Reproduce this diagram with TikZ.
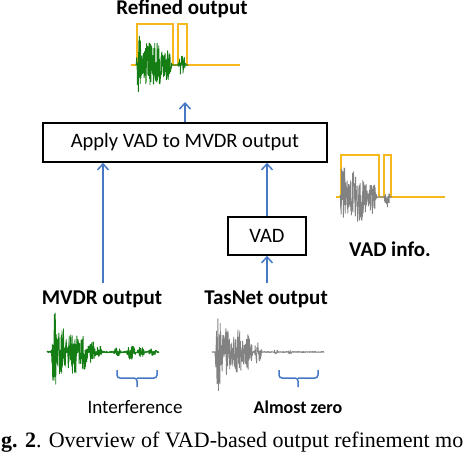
\documentclass[tikz,border=0pt]{standalone}
\usepackage{fontspec}
\setmainfont{Carlito}
\newfontfamily\capfont{Liberation Serif}
\usetikzlibrary{arrows.meta}
\definecolor{vadorange}{RGB}{245,185,30}
\definecolor{wgreen}{RGB}{20,125,20}
\definecolor{wgray}{RGB}{130,130,130}
\definecolor{ablue}{RGB}{70,120,195}
\tikzset{
  box/.style={draw, line width=1.6pt, inner sep=0pt, font=\fontsize{20.5}{24}\selectfont},
  lbl/.style={font=\bfseries\fontsize{21}{24}\selectfont, inner sep=0pt, anchor=base},
  sublbl/.style={font=\fontsize{19}{22}\selectfont, inner sep=0pt, anchor=base},
  sublblb/.style={font=\bfseries\fontsize{18}{22}\selectfont, inner sep=0pt, anchor=base},
  flow/.style={draw=ablue, line width=1.5pt, -{Straight Barb[length=6pt,width=11pt,line width=1.5pt]}},
  wave/.style={line width=0.85pt, line join=round},
  vadline/.style={draw=vadorange, line width=1.4pt},
  brc/.style={draw=ablue, line width=1.5pt, rounded corners=3pt},
}
\newcommand\wavedraw[7]{% color, seed, x0, x1, y0, samples, envelope in \x
  \pgfmathsetseed{#2}
  \draw[wave,#1] plot[samples=#6, domain=#3:#4] (\x,{#5+(#7)*rand});
}
\begin{document}
\begin{tikzpicture}[x=1pt,y=-1pt,
  declare function={B(\bx,\bc,\bw)=max(0,1-((\bx-\bc)/\bw)^2);}]
\useasboundingbox (0,0) rectangle (474,457);

% ---------- Refined output ----------
\node[lbl] (reflbl) at (182,15) {Refined output};
\draw[vadline] (131,65) -- (137,65) -- (137,24) -- (173,24) -- (173,65) -- (178,65)
  -- (178,24) -- (187,24) -- (187,65) -- (240,65);
\wavedraw{wgreen}{11}{136}{188}{65}{220}{34*B(\x,139,3)+24*B(\x,148,8)+22*B(\x,158,6)+16*B(\x,167,5)+11*B(\x,182,4)+0.3}
\coordinate (refbot) at (185,102);

% ---------- Apply box ----------
\node[box, minimum width=284pt, minimum height=39pt] (apply) at (185,142.5) {Apply VAD to MVDR output};

% ---------- VAD box ----------
\node[box, minimum width=78pt, minimum height=38pt] (vad) at (267,236) {VAD};

% ---------- VAD info ----------
\draw[vadline] (336,197) -- (341,197) -- (341,155) -- (379,155) -- (379,197) -- (384,197)
  -- (384,155) -- (391,155) -- (391,197) -- (445,197);
\wavedraw{wgray}{23}{340}{392}{197}{220}{36*B(\x,343,3)+26*B(\x,352,8)+24*B(\x,362,6)+17*B(\x,372,5)+12*B(\x,387,3)+0.3}
\node[lbl] (vadinfo) at (390,257) {VAD info.};

% ---------- MVDR output ----------
\node[lbl] (mvdr) at (102,305) {MVDR output};
\wavedraw{wgreen}{5}{47}{159}{352}{450}{38*B(\x,54,3)+24*B(\x,62,8)+22*B(\x,74,7)+17*B(\x,84,5)+12*B(\x,92,4)+7*B(\x,99,3)+4*B(\x,117,4)+7*B(\x,131,5)+5*B(\x,141,4)+3*B(\x,152,5)+0.8}
\draw[brc] (117,370) -- (117,378) -- (137,378) -- (137,387) (137,378) -- (157,378) -- (157,370);
\node[sublbl] (interf) at (135,413) {Interference};

% ---------- TasNet output ----------
\node[lbl] (tasnet) at (266,305) {TasNet output};
\wavedraw{wgray}{7}{212}{324}{352}{450}{38*B(\x,218,3)+24*B(\x,226,8)+22*B(\x,238,7)+17*B(\x,248,5)+12*B(\x,258,4)+3*B(\x,276,2)+1.5*B(\x,290,2)+0.5}
\draw[brc] (279,370) -- (279,378) -- (298,378) -- (298,387) (298,378) -- (318,378) -- (318,370);
\node[sublblb] (almost) at (298,413) {Almost zero};

% ---------- connectors ----------
\draw[flow] (apply.north) -- (refbot);
\draw[flow, shorten <=8pt] (mvdr.north -| 103,0) -- (apply.south -| 103,0);
\draw[flow, shorten <=8pt] (tasnet.north -| vad.south) -- (vad.south);
\draw[flow] (vad.north) -- (vad.north |- apply.south);

% ---------- caption ----------
\node[anchor=base west, inner sep=0pt, font=\capfont\fontsize{22}{26}\selectfont] (cap) at (1,447)
  {\textbf{g. 2}. Overview of VAD-based output refinement mo};
\end{tikzpicture}
\end{document}
